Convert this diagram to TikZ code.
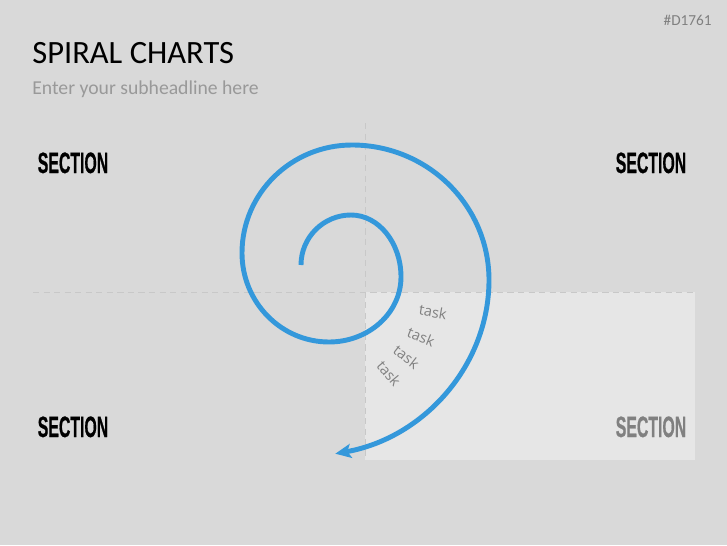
\documentclass[tikz,border=0pt]{standalone}
\usepackage{graphicx}
\usepackage{fontspec}
\setmainfont{Carlito}
\newfontfamily\taskfont{Open Sans}
\newfontfamily\secfont[FakeBold=1]{Liberation Sans Bold}
\usepackage{tikz}
\usetikzlibrary{arrows.meta,positioning}
\tikzset{>=latex}
\definecolor{slidebg}{RGB}{217,217,217}
\definecolor{lightbox}{RGB}{230,230,230}
\definecolor{spiralblue}{RGB}{52,152,219}
\definecolor{dashgray}{RGB}{200,200,200}
\tikzset{
  section/.style={inner sep=0pt, anchor=base, font=\secfont\fontsize{16.7}{18}\selectfont},
  tasklabel/.style={inner sep=0pt, text=black!50, font=\taskfont\fontsize{8.3}{10}\selectfont},
  guide/.style={dashgray, dash pattern=on 3.5pt off 2.5pt, line width=0.5pt}
}
\newcommand{\sect}[1]{\scalebox{0.54}[1]{#1}}

\begin{document}
\begin{tikzpicture}
      % slide
      \fill [slidebg] (0,0) rectangle (14.54,10.9);
      \useasboundingbox (0,0) rectangle (14.54,10.9);
      \fill [lightbox] (7.3,1.7) rectangle (13.9,5.06);
      % headings
      \node (title) at (0.64,9.64) [anchor=base west, inner sep=0pt, font=\fontsize{18.5}{20}\selectfont]{SPIRAL CHARTS};
      \node (sub) at (0.64,9.02) [anchor=base west, inner sep=0pt, text=black!40, font=\fontsize{11.2}{13}\selectfont]{Enter your subheadline here};
      \node (id) at (14.24,10.38) [anchor=base east, inner sep=0pt, text=black!50, font=\fontsize{8.7}{10}\selectfont]{\#D1761};
      % quadrant lines
      \coordinate (hl) at (0.66,5.06);
      \coordinate (hr) at (13.9,5.06);
      \coordinate (vt) at (7.3,8.44);
      \coordinate (vb) at (7.3,1.7);
      \draw [guide] (hl) -- (hr);
      \draw [guide] (vt) -- (vb);
      % sections
      \node (s1) at (1.46,7.44) [section]{\sect{SECTION}};
      \node (s2) at (13.02,7.44) [section]{\sect{SECTION}};
      \node (s3) at (1.46,2.16) [section]{\sect{SECTION}};
      \node (s4) at (13.02,2.16) [section, text=black!50]{\sect{SECTION}};
      % spiral
      \draw [spiralblue, line width=2.8pt, -{Stealth[length=9pt,width=8pt,inset=2pt]}] (6.02,5.60)
        arc [start angle=180, end angle=90, radius=1.0]
        arc [start angle=90, end angle=0, x radius=1.0, y radius=1.24]
        arc [start angle=0, end angle=-90, x radius=1.44, y radius=1.30]
        arc [start angle=-90, end angle=-180, x radius=1.74, y radius=1.78]
        arc [start angle=180, end angle=90, x radius=2.2, y radius=2.16]
        arc [start angle=90, end angle=0, x radius=2.74, y radius=2.70]
        arc [start angle=0, end angle=-79, x radius=3.8, y radius=3.54];
      % tasks
      \node (t1) at (8.66,4.66) [tasklabel, rotate=-10]{task};
      \node (t2) at (8.42,4.16) [tasklabel, rotate=-22]{task};
      \node (t3) at (8.13,3.76) [tasklabel, rotate=-38]{task};
      \node (t4) at (7.78,3.43) [tasklabel, rotate=-50]{task};
\end{tikzpicture}
\end{document}
